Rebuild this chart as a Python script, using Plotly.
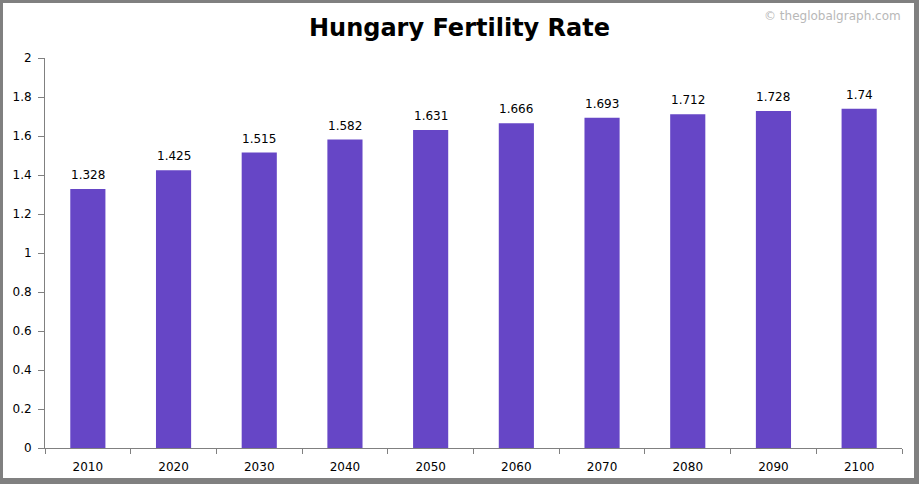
import plotly.graph_objects as go

# === data ===
years = ["2010", "2020", "2030", "2040", "2050", "2060", "2070", "2080", "2090", "2100"]
fertility = [1.328, 1.425, 1.515, 1.582, 1.631, 1.666, 1.693, 1.712, 1.728, 1.74]
labels = ["1.328", "1.425", "1.515", "1.582", "1.631", "1.666", "1.693", "1.712", "1.728", "1.74"]

W, H = 919, 484
L, R, T, B = 45, 17, 58, 36
FONT = "DejaVu Sans"
GRAY = "#808080"


def px2paper(x0, y0, x1, y1):
    # pixel box -> paper coords (paper is the plot area)
    pw = W - L - R
    ph = H - T - B
    return dict(x0=(x0 - L) / pw, x1=(x1 - L) / pw,
                y0=(H - B - y0) / ph, y1=(H - B - y1) / ph)


fig = go.Figure(
    go.Bar(
        x=years,
        y=fertility,
        marker=dict(color="#6646c6", line=dict(width=0)),
        hoverinfo="x+y",
    )
)

# value labels above the bars (category index for x)
annotations = [
    dict(x=i, y=v, text=lab, showarrow=False, yanchor="bottom", yshift=5,
         font=dict(family=FONT, size=12, color="#000000"))
    for i, (v, lab) in enumerate(zip(fertility, labels))
]
annotations.append(
    dict(
        text="© theglobalgraph.com",
        xref="paper", yref="paper",
        x=(903 - L) / (W - L - R), y=(H - B - 16) / (H - T - B),
        xanchor="right", yanchor="middle",
        showarrow=False,
        font=dict(family=FONT, size=12, color="#b8b8b8"),
    )
)

# frame around the whole picture
shapes = []
for box in [(0, 0, W, 3), (0, 0, 3, H), (914, 0, W, H), (0, 478, W, H)]:
    s = px2paper(*box)
    shapes.append(dict(type="rect", xref="paper", yref="paper", fillcolor=GRAY,
                       line=dict(width=0), layer="above", **s))

fig.update_layout(
    width=W,
    height=H,
    margin=dict(l=L, r=R, t=T, b=B),
    paper_bgcolor="white",
    plot_bgcolor="white",
    showlegend=False,
    bargap=0.59,
    shapes=shapes,
    annotations=annotations,
    title=dict(
        text="<b>Hungary Fertility Rate</b>",
        x=0.5,
        xanchor="center",
        y=1 - 28 / H,
        yanchor="middle",
        font=dict(family=FONT, size=24, color="#000000"),
    ),
    xaxis=dict(
        type="category",
        automargin=False,
        showline=True,
        linecolor=GRAY,
        linewidth=1,
        ticks="outside",
        tickson="boundaries",
        ticklen=5,
        tickcolor=GRAY,
        showgrid=False,
        tickangle=0,
        ticklabelstandoff=8,
        tickfont=dict(family=FONT, size=12, color="#000000"),
    ),
    yaxis=dict(
        range=[0, 2],
        dtick=0.2,
        automargin=False,
        showline=True,
        linecolor=GRAY,
        linewidth=1,
        ticks="outside",
        ticklen=6,
        tickcolor=GRAY,
        showgrid=False,
        zeroline=False,
        ticklabelstandoff=4,
        tickfont=dict(family=FONT, size=12, color="#000000"),
    ),
)

# page has a default body margin, drop it so the figure sits at 0,0
fig.write_html("out.html", config={"displayModeBar": False},
               post_script="document.body.style.margin='0';")
